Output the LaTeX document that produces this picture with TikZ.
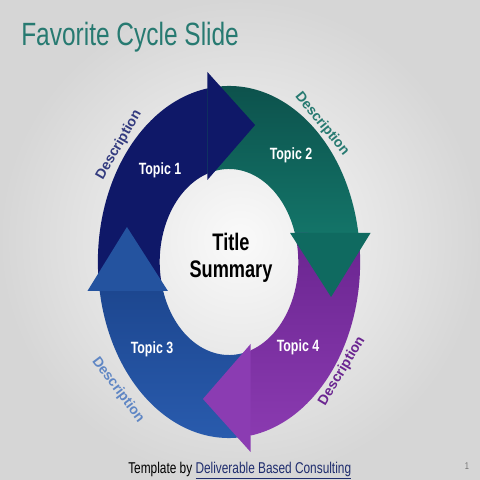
\documentclass[tikz,border=0pt]{standalone}
\usepackage{fontspec}
\setmainfont{Liberation Sans}
\newfontfamily\narrowfont[FakeStretch=0.76]{Liberation Sans}
\usetikzlibrary{positioning}

\definecolor{navyarrow}{HTML}{0F1868}
\definecolor{tealdark}{HTML}{0C4F4A}
\definecolor{teallight}{HTML}{137468}
\definecolor{tealhead}{HTML}{0F6A60}
\definecolor{purpledark}{HTML}{6A2590}
\definecolor{purplelight}{HTML}{8A3AB0}
\definecolor{purplehead}{HTML}{8B3CB2}
\definecolor{bluedark}{HTML}{1D4790}
\definecolor{bluelight}{HTML}{2A5DB0}
\definecolor{bluehead}{HTML}{24539F}
\definecolor{titleteal}{HTML}{277A71}
\definecolor{linknavy}{HTML}{1F2D6E}

\begin{document}
\begin{tikzpicture}[x=0.025cm, y=0.025cm,
    topic/.style={text=white, font=\narrowfont\bfseries\fontsize{11.6}{13}\selectfont},
    descr/.style={font=\bfseries\fontsize{10}{12}\selectfont},
    headline/.style={text=titleteal, font=\narrowfont\fontsize{22.9}{26}\selectfont}]
    \useasboundingbox (0,0) rectangle (480,480);
    \shade[inner color=black!2, outer color=black!16] (0,0) rectangle (480,480);

    \node[headline, anchor=base west, inner sep=0pt] (title) at (21,434) {Favorite Cycle Slide};

    \begin{scope}[shift={(229,218)}, xscale=0.745]
        % ring pieces
        \fill[navyarrow] (189.48:176) arc[start angle=189.48, end angle=99.48, radius=176]
            -- (108.17:93) arc[start angle=108.17, end angle=198.17, radius=93] -- cycle;
        \shade[top color=tealdark, bottom color=teallight] (99.48:176) arc[start angle=99.48, end angle=9.48, radius=176]
            -- (18.17:93) arc[start angle=18.17, end angle=108.17, radius=93] -- cycle;
        \shade[top color=purpledark, bottom color=purplelight] (9.48:176) arc[start angle=9.48, end angle=-80.52, radius=176]
            -- (-71.83:93) arc[start angle=-71.83, end angle=18.17, radius=93] -- cycle;
        \shade[top color=bluedark, bottom color=bluelight] (-80.52:176) arc[start angle=-80.52, end angle=-170.52, radius=176]
            -- (-161.83:93) arc[start angle=-161.83, end angle=-71.83, radius=93] -- cycle;
        % heads
        \fill[navyarrow] (-29,82) -- (-29,190) -- (35,137) -- cycle;
        \fill[tealhead, rotate=-90] (-29,82) -- (-29,190) -- (35,137) -- cycle;
        \fill[purplehead, rotate=-180] (-29,82) -- (-29,190) -- (35,137) -- cycle;
        \fill[bluehead, rotate=-270] (-29,82) -- (-29,190) -- (35,137) -- cycle;
    \end{scope}

    \node[topic] (t1) at (160,310) {Topic 1};
    \node[topic] (t2) at (291,325) {Topic 2};
    \node[topic] (t3) at (152,131) {Topic 3};
    \node[topic] (t4) at (298,133) {Topic 4};

    \node[align=center, font=\narrowfont\bfseries\fontsize{17}{19.2}\selectfont] (summary) at (231,222) {Title\\Summary};

    \node[descr, text=navyarrow!85!white, rotate=60] (d1) at (119,335) {Description};
    \node[descr, text=titleteal, rotate=-51] (d2) at (322,356) {Description};
    \node[descr, text=bluelight!75!white, rotate=-53] (d3) at (118,90) {Description};
    \node[descr, text=purpledark, rotate=59] (d4) at (342,109) {Description};

    \node[anchor=base west, inner sep=0pt, font=\narrowfont\fontsize{11.1}{13}\selectfont] (credit) at (128,7)
        {Template by \textcolor{linknavy}{\underline{Deliverable Based Consulting}}};
    \node[text=black!55, font=\narrowfont\fontsize{7}{8}\selectfont] (page) at (467,14) {1};
\end{tikzpicture}
\end{document}
